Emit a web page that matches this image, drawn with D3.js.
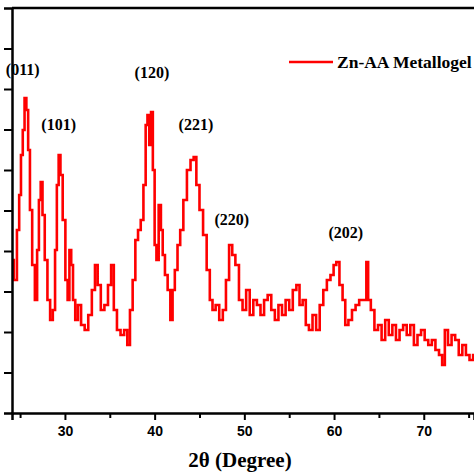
<!DOCTYPE html>
<html><head><meta charset="utf-8">
<script src="https://cdn.jsdelivr.net/npm/d3@7"></script>
<style>body{margin:0;background:#fff}</style></head>
<body><svg id="c" width="474" height="474"></svg>
<script>
const twoTheta = [24.1,24.5,24.8,25.0,25.2,25.4,25.6,25.8,26.0,26.2,26.5,26.8,27.0,27.2,27.4,27.6,27.9,28.2,28.5,28.8,29.0,29.2,29.4,29.6,29.9,30.2,30.4,30.6,30.8,31.0,31.3,31.6,32.0,32.4,32.8,33.2,33.5,33.8,34.2,34.6,35.0,35.3,35.6,36.0,36.4,36.8,37.1,37.4,37.7,38.0,38.3,38.6,38.9,39.1,39.3,39.5,39.7,39.9,40.1,40.3,40.6,40.8,41.0,41.3,41.6,41.9,42.1,42.4,42.7,43.0,43.4,43.8,44.2,44.5,44.8,45.2,45.6,46.0,46.3,46.6,47.0,47.4,47.8,48.1,48.5,48.8,49.2,49.6,50.0,50.4,50.8,51.2,51.6,52.0,52.4,52.8,53.2,53.6,54.0,54.4,54.8,55.2,55.6,56.0,56.3,56.7,57.0,57.4,57.8,58.2,58.6,59.0,59.4,59.8,60.1,60.4,60.8,61.1,61.4,61.8,62.2,62.6,63.0,63.5,63.7,63.9,64.3,64.7,65.1,65.5,65.9,66.3,66.7,67.1,67.5,67.9,68.3,68.7,69.1,69.5,69.9,70.3,70.7,71.1,71.5,71.9,72.2,72.5,72.9,73.3,73.7,74.1,74.5,74.9,75.3,75.7,76.0];
const intensity = [153,133,183,218,258,283,315,303,263,203,148,113,163,213,231,198,153,113,93,103,163,228,258,238,193,133,113,163,148,113,93,108,88,83,98,123,148,128,103,108,128,148,103,83,78,83,68,103,133,173,183,193,228,288,298,268,301,243,168,153,208,183,158,138,123,93,123,143,168,183,213,243,253,256,228,203,178,143,113,103,108,93,103,133,168,158,148,113,103,123,98,113,108,98,113,118,103,93,108,98,113,103,123,128,108,113,88,83,98,83,108,123,133,138,148,151,128,113,88,93,103,108,113,113,151,113,103,83,88,73,93,78,88,73,83,88,78,88,68,78,83,73,68,73,63,58,48,83,68,78,73,58,68,58,53,58,68];
const peakLabels = ["(011)","(101)","(120)","(221)","(220)","(202)"];
const peakPos = [25.3,29.3,39.7,44.6,48.6,61.3];
const peakInt = [338,283,335,283,188,175];
const xTicks = [30,40,50,60,70];
const xMinor = [25,35,45,55,65,75];
const yTicks = [40.5,81,121.5,162,202.5,243,283.5,324,364.5];

const svg = d3.select("#c");
const x = d3.scaleLinear().domain([24.1,75.6]).range([12,474]);
const y = d3.scaleLinear().domain([0,405]).range([413,8]);

svg.append("path").datum(twoTheta.map((t,i)=>[t,intensity[i]]))
  .attr("d", d3.line().x(d=>x(d[0])).y(d=>y(d[1])).curve(d3.curveStep))
  .attr("fill","none").attr("stroke","#ff0000").attr("stroke-width",2.6).attr("stroke-linejoin","miter");

svg.append("line").attr("x1",12).attr("x2",474).attr("y1",8).attr("y2",8).attr("stroke","#000").attr("stroke-width",2.5);
const xa = svg.append("g").attr("transform","translate(0,413)")
  .call(d3.axisBottom(x).tickValues(xTicks).tickSize(7).tickPadding(6).tickFormat(d3.format("d")));
xa.select(".domain").attr("stroke-width",2.5);
xa.selectAll("line").attr("stroke-width",2);
xa.selectAll("text").attr("font-family","Liberation Sans, Arial").attr("font-weight","bold").attr("font-size",14).attr("fill","#000");
svg.append("g").attr("transform","translate(0,413)")
  .call(d3.axisBottom(x).tickValues(xMinor).tickSize(5).tickFormat(""))
  .call(g=>{g.select(".domain").remove();g.selectAll("line").attr("stroke-width",2);});
const ya = svg.append("g").attr("transform","translate(12,0)")
  .call(d3.axisLeft(y).tickValues(yTicks).tickSize(8).tickFormat(""));
ya.select(".domain").attr("stroke-width",2.5);
ya.selectAll("line").attr("stroke-width",2);

svg.selectAll(".pk").data(peakLabels).enter().append("text")
  .attr("x",(d,i)=>x(peakPos[i])).attr("y",(d,i)=>y(peakInt[i]))
  .attr("text-anchor","middle").attr("font-family","Liberation Serif, Times New Roman")
  .attr("font-weight","bold").attr("font-size",16).text(d=>d);

svg.append("line").attr("x1",289).attr("x2",333).attr("y1",62).attr("y2",62).attr("stroke","#ff0000").attr("stroke-width",2.6);
svg.append("text").attr("x",337).attr("y",68).attr("font-family","Liberation Serif, Times New Roman")
  .attr("font-weight","bold").attr("font-size",17.5).text("Zn-AA Metallogel");

svg.append("text").attr("x",240).attr("y",467).attr("text-anchor","middle")
  .attr("font-family","Liberation Serif, Times New Roman").attr("font-weight","bold").attr("font-size",21).text("2θ (Degree)");
</script></body></html>
